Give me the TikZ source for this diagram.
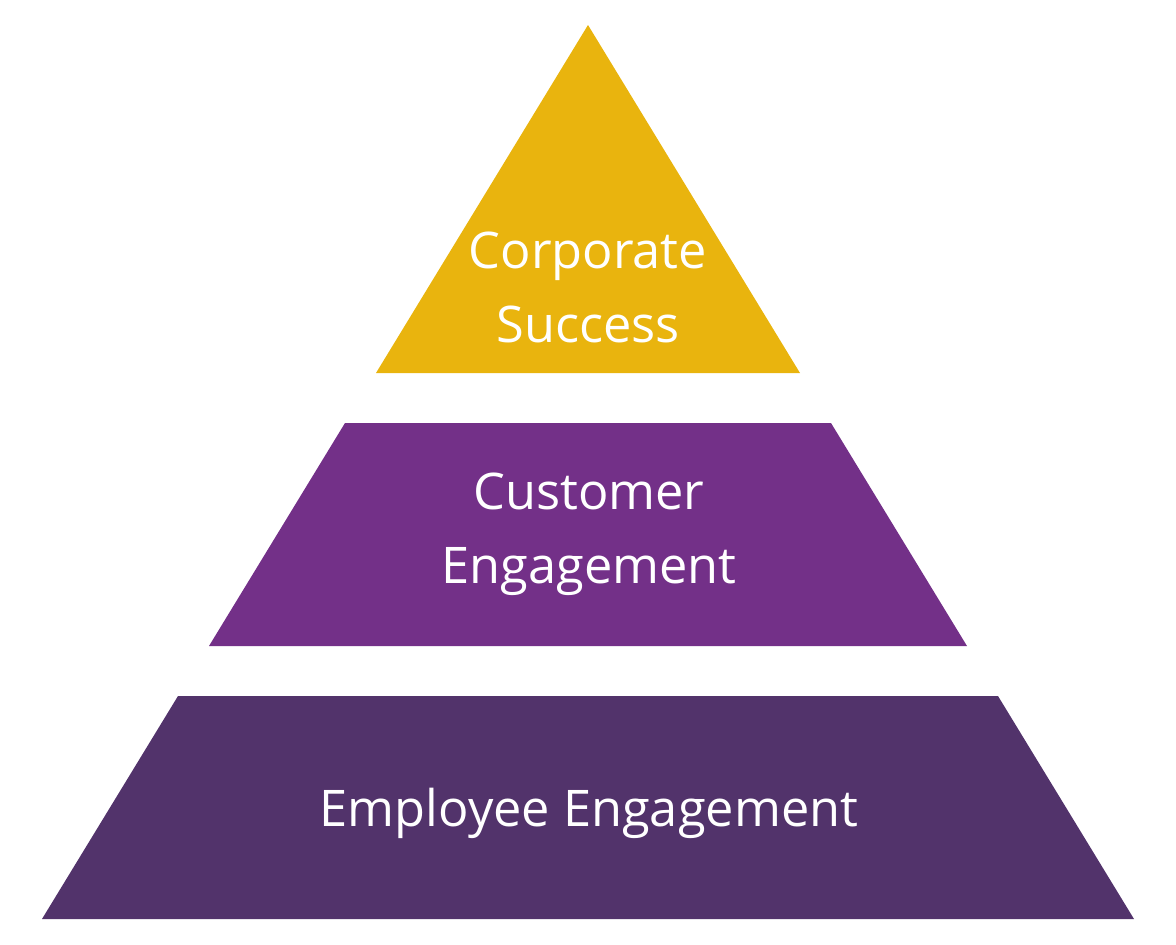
\documentclass[tikz,border=0pt]{standalone}
\usepackage{fontspec}
\setmainfont{Open Sans}
\usetikzlibrary{positioning}
\definecolor{tiergold}{HTML}{E9B40E}
\definecolor{tiermid}{HTML}{733088}
\definecolor{tierdark}{HTML}{52336B}
\begin{document}
\begin{tikzpicture}[x=1pt,y=-1pt,
 lvl/.style={text=white,align=center,font=\fontsize{50.5}{74}\selectfont,inner sep=0pt,anchor=base}]
\useasboundingbox (0,0) rectangle (1176,945);
\fill[tiergold] (588,25) -- (800,373) -- (376,373) -- cycle;
\fill[tiermid] (345,423) -- (831,423) -- (967,646) -- (209,646) -- cycle;
\fill[tierdark] (178,696) -- (998,696) -- (1134,919) -- (42,919) -- cycle;
\node[lvl] (top) at (588,342) {Corporate\\ Success};
\node[lvl] (mid) at (589,583) {Customer\\ Engagement};
\node[lvl] (bot) at (589,826) {Employee Engagement};
\end{tikzpicture}
\end{document}
